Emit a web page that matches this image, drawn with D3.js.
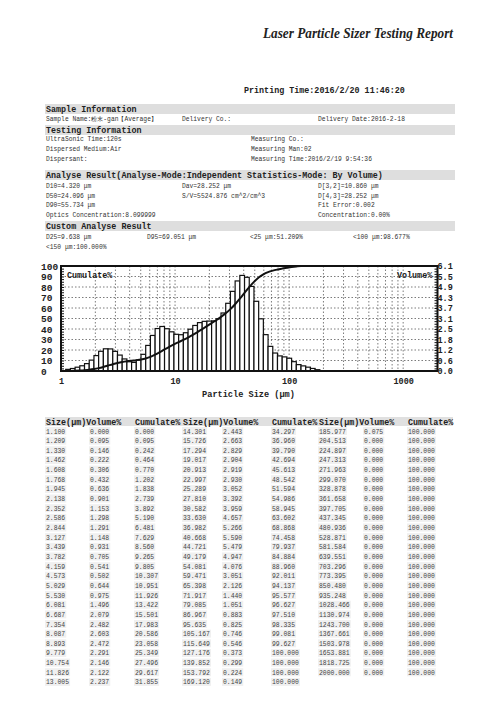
<!DOCTYPE html>
<html><head><meta charset="utf-8">
<script src="https://cdn.jsdelivr.net/npm/d3@7"></script>
<style>body{margin:0;background:#fff} svg{display:block}</style>
</head><body>
<svg id="c" width="500" height="706"></svg>
<script>
const sizes = [1.100,1.209,1.330,1.462,1.608,1.768,1.945,2.138,2.352,2.586,2.844,3.127,3.439,3.782,4.159,4.573,5.029,5.530,6.081,6.687,7.354,8.087,8.893,9.779,10.754,11.826,13.005,
14.301,15.726,17.294,19.017,20.913,22.997,25.289,27.810,30.582,33.630,36.982,40.668,44.721,49.179,54.081,59.471,65.398,71.917,79.085,86.967,95.635,105.167,115.649,127.176,139.852,153.792,169.120,
185.977,204.513,224.897,247.313,271.963,299.070,328.878,361.658,397.705,437.345,480.936,528.871,581.584,639.551,703.296,773.395,850.480,935.248,1028.466,1130.974,1243.700,1367.661,1503.978,1653.881,1818.725,2000.000];
const volumes = [0.000,0.095,0.146,0.222,0.306,0.432,0.636,0.901,1.153,1.298,1.291,1.148,0.931,0.705,0.541,0.502,0.644,0.975,1.496,2.079,2.482,2.603,2.472,2.291,2.146,2.122,2.237,
2.443,2.663,2.829,2.904,2.919,2.930,3.052,3.392,3.959,4.657,5.266,5.590,5.479,4.947,4.076,3.051,2.126,1.440,1.051,0.883,0.825,0.746,0.546,0.373,0.299,0.224,0.149,
0.075,0,0,0,0,0,0,0,0,0,0,0,0,0,0,0,0,0,0,0,0,0,0,0,0,0];
const cumulates = [0.000,0.095,0.242,0.464,0.770,1.202,1.838,2.739,3.892,5.190,6.481,7.629,8.560,9.265,9.805,10.307,10.951,11.926,13.422,15.501,17.983,20.586,23.058,25.349,27.496,29.617,31.855,
34.297,36.960,39.790,42.694,45.613,48.542,51.594,54.986,58.945,63.602,68.868,74.458,79.937,84.884,88.960,92.011,94.137,95.577,96.627,97.510,98.335,99.081,99.627,100,100,100,100,
100,100,100,100,100,100,100,100,100,100,100,100,100,100,100,100,100,100,100,100,100,100,100,100,100,100];
const leftTickLabels = ["0","10","20","30","40","50","60","70","80","90","100"];
const rightTickLabels = ["0.0","0.6","1.2","1.8","2.5","3.1","3.7","4.3","4.9","5.5","6.1"];
const xTickValues = [1,10,100,1000];
const volumeMax = 6.14;
const rowsPerColumn = [27,27,26];

const titleText = "Laser Particle Sizer Testing Report";
const printTime = "Printing Time:2016/2/20 11:46:20";
const sectionTitles = ["Sample Information","Testing Information","Analyse Result(Analyse-Mode:Independent  Statistics-Mode: By Volume)","Custom Analyse Result"];
const sampleRow = ["Sample Name:粉末-gan【Average】","Delivery Co.:","Delivery Date:2016-2-18"];
const testingRows = [["UltraSonic Time:120s","Measuring Co.:"],["Dispersed Medium:Air","Measuring Man:02"],["Dispersant:","Measuring Time:2016/2/19 9:54:36"]];
const analyseRows = [["D10=4.320 μm","Dav=28.252 μm","D[3,2]=10.860 μm"],["D50=24.096 μm","S/V=5524.876 cm^2/cm^3","D[4,3]=28.252 μm"],["D90=55.734 μm","","Fit Error:0.002"],["Optics Concentration:8.099999","","Concentration:0.00%"]];
const customRows = [["D25=9.638 μm","D95=69.051 μm","<25 μm:51.209%","<100 μm:98.677%"],["<150 μm:100.000%"]];
const tableHeaders = ["Size(μm)Volume%","Cumulate%"];
const axisTitleX = "Particle Size (μm)";

const svg = d3.select("#c");
svg.append("rect").attr("width",500).attr("height",706).attr("fill","#fff");
const MONO = "'Liberation Mono','DejaVu Sans Mono',monospace";

// title
svg.append("text").attr("x",263).attr("y",38)
  .attr("font-family","'Liberation Serif',serif").attr("font-weight","bold").attr("font-style","italic")
  .attr("font-size",15).attr("fill","#222").attr("textLength",190).attr("lengthAdjust","spacingAndGlyphs").text(titleText);
svg.append("text").attr("x",244).attr("y",93).attr("font-family",MONO).attr("font-weight","bold")
  .attr("font-size",8.4).attr("fill","#222").text(printTime);

const bandY = [104,125,170,221];
sectionTitles.forEach((t,i)=>{
  svg.append("rect").attr("x",45).attr("y",bandY[i]).attr("width",410).attr("height",10).attr("fill","#dedede");
  svg.append("text").attr("x",46).attr("y",bandY[i]+8).attr("font-family",MONO).attr("font-weight","bold")
    .attr("font-size",8.4).attr("fill","#222").text(t);
});
function small(x,y,s){
  if(!s) return;
  svg.append("text").attr("x",x).attr("y",y).attr("font-family",MONO).attr("font-size",6.3)
    .attr("fill","#333").text(s);
}
[46,182,318].forEach((x,j)=>small(x,121,sampleRow[j]));
testingRows.forEach((r,i)=>{[46,251].forEach((x,j)=>small(x,141+i*10,r[j]));});
analyseRows.forEach((r,i)=>{[46,182,318].forEach((x,j)=>small(x,188+i*9.7,r[j]));});
customRows.forEach((r,i)=>{[46,147,250,353].forEach((x,j)=>small(x,239+i*9.5,r[j]));});

// chart
const L=61,R=437.5,T=266,B=371;
const xs = d3.scaleLog().domain([1,2000]).range([L,R]);
const yL = d3.scaleLinear().domain([0,100]).range([B,T]);
const yR = d3.scaleLinear().domain([0,volumeMax]).range([B,T]);
const g = svg.append("g");
const vGrid = [];
[1,10,100].forEach(d=>{for(let k=2;k<=9;k++) vGrid.push(d*k);}); vGrid.push(10,100,1000);
g.selectAll(".vg").data(vGrid).join("line").attr("x1",d=>xs(d)).attr("x2",d=>xs(d)).attr("y1",T).attr("y2",B)
  .attr("stroke","#444").attr("stroke-width",0.7).attr("stroke-dasharray","1.5,2");
g.selectAll(".hg").data(d3.range(10,100,10)).join("line").attr("x1",L).attr("x2",R).attr("y1",d=>yL(d)).attr("y2",d=>yL(d))
  .attr("stroke","#444").attr("stroke-width",0.7).attr("stroke-dasharray","1.5,2");
const barIdx = d3.range(1,sizes.length).filter(i=>volumes[i]>0);
g.selectAll(".bar").data(barIdx).join("rect")
  .attr("x",i=>xs(sizes[i-1])).attr("width",i=>xs(sizes[i])-xs(sizes[i-1]))
  .attr("y",i=>yR(volumes[i])).attr("height",i=>yR(0)-yR(volumes[i]))
  .attr("fill","#fff").attr("stroke","#111").attr("stroke-width",1.2);
const line = d3.line().x((d,i)=>xs(sizes[i])).y(d=>yL(d)).curve(d3.curveMonotoneX);
g.append("path").attr("d",line(cumulates)).attr("fill","none").attr("stroke","#111").attr("stroke-width",2);
const minorL = d3.axisRight(yL).tickValues(d3.range(0,101,2.5)).tickSize(3).tickFormat("");
g.append("g").attr("transform",`translate(${L},0)`).call(minorL).call(a=>a.select(".domain").remove()).selectAll("line").attr("stroke","#111");
const minorR = d3.axisLeft(yL).tickValues(d3.range(0,101,2.5)).tickSize(3).tickFormat("");
g.append("g").attr("transform",`translate(${R},0)`).call(minorR).call(a=>a.select(".domain").remove()).selectAll("line").attr("stroke","#111");
g.append("rect").attr("x",L).attr("y",T).attr("width",R-L).attr("height",B-T).attr("fill","none").attr("stroke","#111").attr("stroke-width",2);
const axL = d3.axisLeft(yL).tickValues(d3.range(0,101,10)).tickSize(0).tickPadding(0).tickFormat((d,i)=>leftTickLabels[i]);
const gL = g.append("g").attr("transform",`translate(41,0)`).call(axL);
gL.select(".domain").remove();
gL.selectAll("text").attr("text-anchor","start").attr("font-family",MONO).attr("font-weight","bold").attr("font-size",9.5).attr("fill","#222").attr("dy","0.35em");
const axR = d3.axisRight(yR).tickValues(d3.range(0,11).map(k=>k*volumeMax/10)).tickSize(0).tickPadding(0).tickFormat((d,i)=>rightTickLabels[i]);
const gR = g.append("g").attr("transform",`translate(${R},0)`).call(axR);
gR.select(".domain").remove();
gR.selectAll("text").attr("font-family",MONO).attr("font-weight","bold").attr("font-size",8.5).attr("fill","#222").attr("dy","0.35em");
const axX = d3.axisBottom(xs).tickValues(xTickValues).tickSize(0).tickPadding(7).tickFormat(d3.format("d"));
const gX = g.append("g").attr("transform",`translate(0,${B})`).call(axX);
gX.select(".domain").remove();
gX.selectAll("text").attr("font-family",MONO).attr("font-weight","bold").attr("font-size",8.5).attr("fill","#222");
g.append("text").attr("x",248.5).attr("y",397).attr("text-anchor","middle").attr("font-family",MONO).attr("font-weight","bold")
  .attr("font-size",8.6).attr("fill","#222").text(axisTitleX);
g.append("text").attr("x",67).attr("y",278).attr("font-family",MONO).attr("font-weight","bold").attr("font-size",8.4).attr("fill","#222").text("Cumulate%");
g.append("text").attr("x",397).attr("y",278).attr("font-family",MONO).attr("font-weight","bold").attr("font-size",8.4).attr("fill","#222").text("Volume%");

const sizeX=[46,183,319], volX=[90,223,364], cumX=[135,272,408];
svg.append("rect").attr("x",45).attr("y",417).attr("width",408).attr("height",9).attr("fill","#e0e0e0");
[0,1,2].forEach(c=>{
  svg.append("text").attr("x",sizeX[c]).attr("y",424.5).attr("font-family",MONO).attr("font-weight","bold").attr("font-size",8.4).attr("fill","#222").text(tableHeaders[0]);
  svg.append("text").attr("x",cumX[c]).attr("y",424.5).attr("font-family",MONO).attr("font-weight","bold").attr("font-size",8.4).attr("fill","#222").text(tableHeaders[1]);
});
let start=0;
const cells=[];
rowsPerColumn.forEach((n,c)=>{
  for(let r=0;r<n;r++){
    const i=start+r;
    cells.push({x:sizeX[c],r,s:d3.format(".3f")(sizes[i])});
    cells.push({x:volX[c],r,s:d3.format(".3f")(volumes[i])});
    cells.push({x:cumX[c],r,s:d3.format(".3f")(cumulates[i])});
  }
  start+=n;
});
const tg = svg.append("g");
tg.selectAll("rect").data(cells).join("rect").attr("x",d=>d.x-1).attr("y",d=>427+d.r*9.65).attr("width",d=>d.s.length*3.85+2).attr("height",8)
  .attr("fill","#f0f0f0");
tg.selectAll("text").data(cells).join("text").attr("x",d=>d.x).attr("y",d=>433.5+d.r*9.65)
  .attr("font-family",MONO).attr("font-size",6.4).attr("fill","#444").text(d=>d.s);
</script>
</body></html>
